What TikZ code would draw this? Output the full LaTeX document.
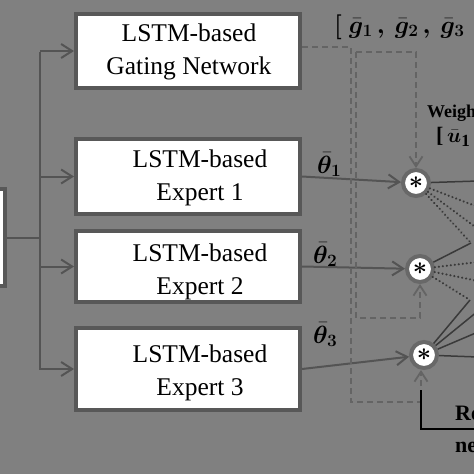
\documentclass[tikz,border=0pt]{standalone}
\usepackage{amsmath,bm}
\usepackage{fontspec}
\setmainfont{Liberation Serif}
\usetikzlibrary{arrows.meta,calc}
\DeclareMathSizes{24}{24}{19}{15}
\DeclareMathSizes{25}{25}{19}{15}
\DeclareMathSizes{22}{22}{17}{13}
\definecolor{bgc}{RGB}{128,128,128}
\definecolor{boxc}{RGB}{88,88,88}
\definecolor{arrc}{RGB}{84,84,84}
\definecolor{dashc}{RGB}{100,100,100}
\definecolor{circc}{RGB}{104,104,104}
\definecolor{fanc}{RGB}{58,58,58}
\begin{document}
\begin{tikzpicture}[x=1pt,y=-1pt,
  box/.style={draw=boxc,line width=4pt,fill=white,inner sep=0pt,minimum width=224pt},
  boxtext/.style={font=\fontsize{25.5}{33}\selectfont,align=center,inner sep=0pt},
  ln/.style={draw=arrc,line width=2pt},
  arr/.style={ln,-{Straight Barb[length=11pt,width=14pt,line width=2pt]}},
  dsh/.style={draw=dashc,line width=1.8pt,dash pattern=on 6pt off 4pt},
  dsharr/.style={dsh,-{Straight Barb[length=10pt,width=13pt,line width=1.8pt]}},
  mult/.style={circle,draw=circc,line width=4pt,fill=white,minimum size=26pt,inner sep=0pt,font=\fontsize{24}{24}\selectfont\boldmath},
  fan/.style={draw=fanc,line width=1.5pt},
  fandot/.style={draw=fanc,line width=2.4pt,line cap=round,dash pattern=on 0.01pt off 4pt},
  lbl/.style={anchor=base west,inner sep=0pt},
]
\useasboundingbox (0,0) rectangle (474,474);
\fill[bgc] (0,0) rectangle (474,474);
\clip (0,0) rectangle (474,474);

% boxes
\node[box,minimum width=60pt,minimum height=97pt] (in) at (-25,237.5) {};
\node[box,minimum height=74pt] (g) at (188,51) {};
\node[box,minimum height=75pt] (e1) at (188,176.5) {};
\node[box,minimum height=71pt] (e2) at (188,266.5) {};
\node[box,minimum height=82pt] (e3) at (188,369) {};
\node[boxtext] (gt) at (189,52) {LSTM-based\\Gating Network};
\node[boxtext] (e1t) at (200,178) {LSTM-based\\Expert 1};
\node[boxtext] (e2t) at (200,272) {LSTM-based\\Expert 2};
\node[boxtext] (e3t) at (200,373) {LSTM-based\\Expert 3};

% input distribution
\coordinate (tA) at (40,52);
\coordinate (tB) at (40,370);
\draw[ln] (in.east) -| (tA);
\draw[ln] (in.east) -| (tB);
\draw[arr] (g.west -| tA) -- (g.west);
\draw[arr] (e1.west -| tA) -- (e1.west);
\draw[arr] (e2.west -| tA) -- (e2.west);
\draw[arr] (e3.west -| tA) -- (e3.west);

% multipliers
\node[mult] (c1) at (416,183) {\raisebox{-3pt}{$\ast$}};
\node[mult] (c2) at (420,269) {\raisebox{-3pt}{$\ast$}};
\node[mult] (c3) at (424,355) {\raisebox{-3pt}{$\ast$}};
\draw[arr] (e1.east) -- (c1);
\draw[arr] (e2.east) -- (c2);
\draw[arr] (e3.east) -- (c3);

% gating (dashed)
\coordinate (a1) at (351,47);
\coordinate (a2) at (351,402);
\coordinate (a3) at (421,402);
\coordinate (b0) at (356,52);
\coordinate (b1) at (356,318);
\draw[dsharr] ($(g.east)+(0,-4)$) -- (a1) -- (a2) -- (a3) -- (a3 |- c3.south);
\draw[dsharr] (b0) -- (b0 -| c1) -- (c1.north);
\draw[dsharr] (b0) -- (b1) -- (b1 -| c2) -- (c2.south);

% black bracket
\coordinate (k0) at (421,390);
\coordinate (k1) at (421,429);
\coordinate (k2) at (480,429);
\draw[black,line width=2pt] (k0) -- (k1) -- (k2);

% fan lines
\coordinate (j1) at (471,243);
\coordinate (j2) at (470,300);
\coordinate (r1) at (478,181);
\coordinate (r2) at (478,207);
\coordinate (r3) at (478,229);
\coordinate (r4) at (478,262);
\coordinate (r5) at (478,281);
\coordinate (r6) at (478,311);
\coordinate (r7) at (478,332);
\coordinate (r8) at (478,357);
\draw[fan] (c1) -- (r1);
\draw[fandot] (c1) -- (r2);
\draw[fandot] (c1) -- (r3);
\draw[fandot] (c1) -- (j1);
\draw[fan] (c2) -- (j1);
\draw[fandot] (c2) -- (r4);
\draw[fandot] (c2) -- (r5);
\draw[fandot] (c2) -- (j2);
\draw[fan] (c3) -- (j2);
\draw[fan] (c3) -- (r6);
\draw[fan] (c3) -- (r7);
\draw[fan] (c3) -- (r8);

% labels
\node[lbl,font=\fontsize{25}{25}\selectfont] (th1) at (317,173) {$\boldsymbol{\bar\theta_1}$};
\node[lbl,font=\fontsize{25}{25}\selectfont] (th2) at (313,263) {$\boldsymbol{\bar\theta_2}$};
\node[lbl,font=\fontsize{25}{25}\selectfont] (th3) at (313,343) {$\boldsymbol{\bar\theta_3}$};
\node[lbl,font=\fontsize{24}{24}\selectfont] (gl) at (334,33) {$\boldsymbol{[}\hspace{7pt}\boldsymbol{\bar g_1}\hspace{4pt}\boldsymbol{,}\hspace{6pt}\boldsymbol{\bar g_2}\hspace{4pt}\boldsymbol{,}\hspace{6pt}\boldsymbol{\bar g_3}$};
\node[lbl,font=\bfseries\fontsize{18}{18}\selectfont] (wl) at (427,117) {Weigh};
\node[lbl,font=\bfseries\fontsize{22}{22}\selectfont] (ul) at (436,142) {[\,$\bar{\boldsymbol u}_{\mathbf 1}$};
\node[lbl,font=\bfseries\fontsize{22}{22}\selectfont] (rl) at (455,420) {Re};
\node[lbl,font=\bfseries\fontsize{22}{22}\selectfont] (nl) at (455,452) {ne};
\end{tikzpicture}
\end{document}
